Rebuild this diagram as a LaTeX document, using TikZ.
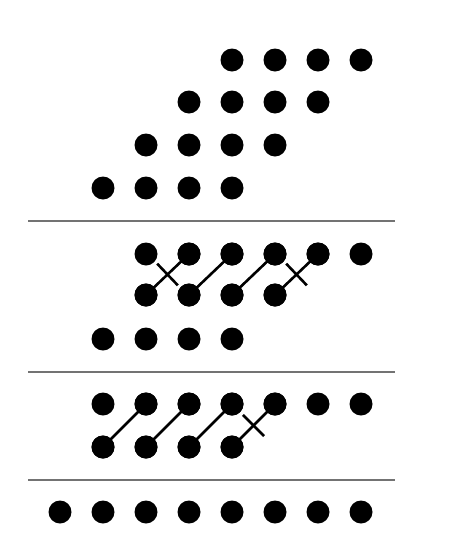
\documentclass[tikz,border=0pt]{standalone}
\usetikzlibrary{calc}
\begin{document}
\begin{tikzpicture}[x=1pt,y=-1pt,
  dot/.style={circle,fill=black,inner sep=0pt,minimum size=23pt},
  link/.style={line width=2.6pt,black},
  rule/.style={line width=1.6pt,black!55},
  crossmark/.style={line width=2.6pt,black}]
\useasboundingbox (0,0) rectangle (474,555);
% section 1
\foreach \i/\x in {1/232,2/275,3/318,4/361} \node[dot] (a\i) at (\x,60) {};
\foreach \i/\x in {1/189,2/232,3/275,4/318} \node[dot] (b\i) at (\x,102) {};
\foreach \i/\x in {1/146,2/189,3/232,4/275} \node[dot] (c\i) at (\x,145) {};
\foreach \i/\x in {1/103,2/146,3/189,4/232} \node[dot] (d\i) at (\x,188) {};
\coordinate (r1l) at (28,221); \coordinate (r1r) at (395,221);
\draw[rule] (r1l) -- (r1r);
% section 2
\foreach \i/\x in {1/146,2/189,3/232,4/275,5/318,6/361} \node[dot] (e\i) at (\x,254) {};
\foreach \i/\x in {1/146,2/189,3/232,4/275} \node[dot] (f\i) at (\x,295) {};
\foreach \i/\x in {1/103,2/146,3/189,4/232} \node[dot] (g\i) at (\x,339) {};
\coordinate (r2l) at (28,372); \coordinate (r2r) at (395,372);
\draw[rule] (r2l) -- (r2r);
\draw[link] (f1.center) -- (e2.center);
\draw[link] (f2.center) -- (e3.center);
\draw[link] (f3.center) -- (e4.center);
\draw[link] (f4.center) -- (e5.center);
\coordinate (m1) at ($(f1)!0.5!(e2)$);
\coordinate (m2) at ($(f4)!0.5!(e5)$);
\draw[crossmark] ($(m1)!15pt!90:(e2)$) -- ($(m1)!15pt!-90:(e2)$);
\draw[crossmark] ($(m2)!15pt!90:(e5)$) -- ($(m2)!15pt!-90:(e5)$);
% section 3
\foreach \i/\x in {1/103,2/146,3/189,4/232,5/275,6/318,7/361} \node[dot] (h\i) at (\x,404) {};
\foreach \i/\x in {1/103,2/146,3/189,4/232} \node[dot] (k\i) at (\x,447) {};
\coordinate (r3l) at (28,480); \coordinate (r3r) at (395,480);
\draw[rule] (r3l) -- (r3r);
\draw[link] (k1.center) -- (h2.center);
\draw[link] (k2.center) -- (h3.center);
\draw[link] (k3.center) -- (h4.center);
\draw[link] (k4.center) -- (h5.center);
\coordinate (m3) at ($(k4)!0.5!(h5)$);
\draw[crossmark] ($(m3)!15pt!90:(h5)$) -- ($(m3)!15pt!-90:(h5)$);
% section 4
\foreach \i/\x in {1/60,2/103,3/146,4/189,5/232,6/275,7/318,8/361} \node[dot] (p\i) at (\x,512) {};
% redraw dots over links
\foreach \n in {e2,e3,e4,e5,f1,f2,f3,f4,h2,h3,h4,h5,k1,k2,k3,k4} \fill (\n) circle (11.5pt);
\end{tikzpicture}
\end{document}
